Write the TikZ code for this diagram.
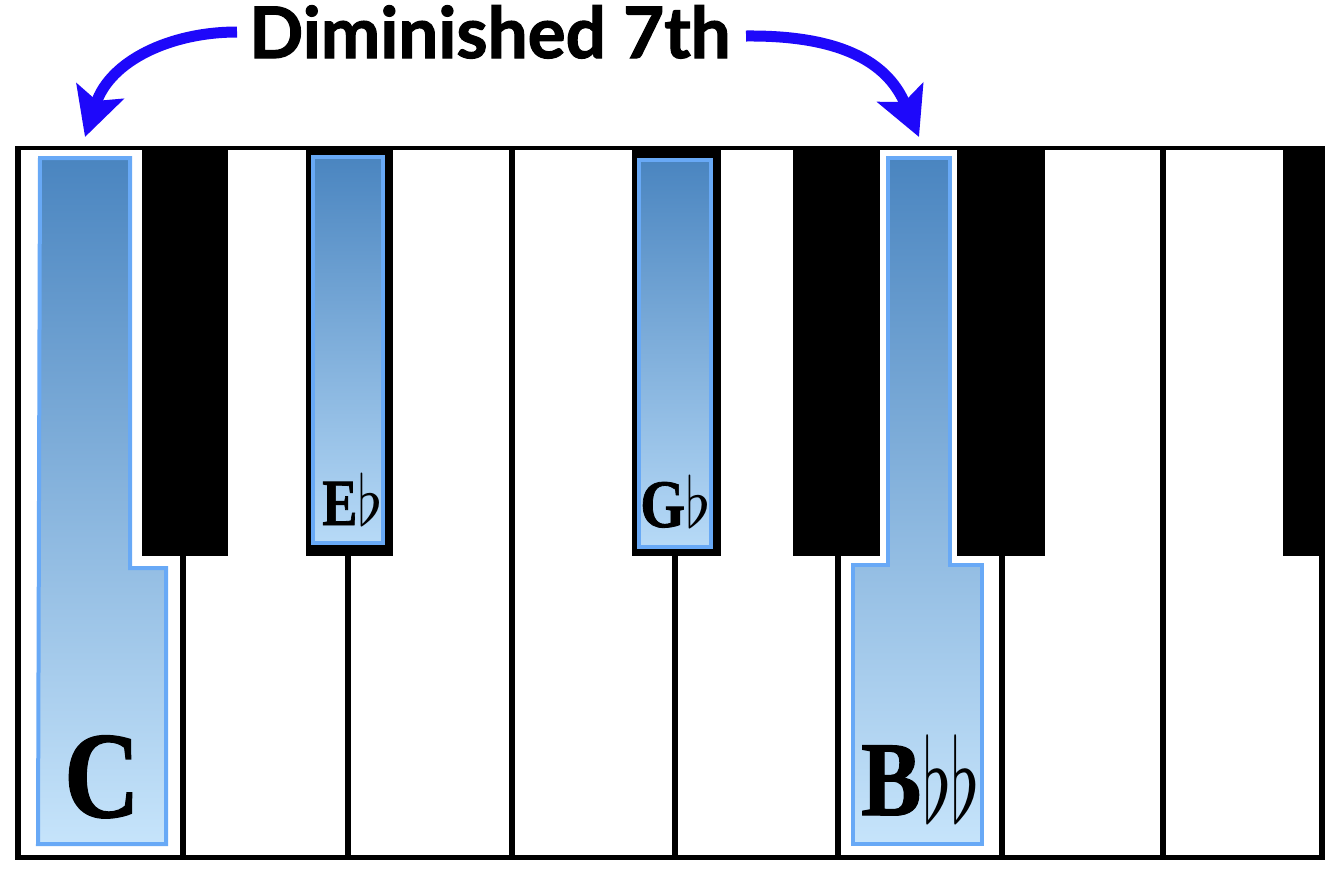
\documentclass[tikz,border=0pt]{standalone}
\usepackage{fontspec}
\usepackage{graphicx}
\setmainfont{Liberation Serif}[BoldFeatures={FakeBold=1.2}]
\newfontfamily\titlefont{Lato}[BoldFeatures={FakeBold=1.6}]
\usetikzlibrary{arrows.meta}
\definecolor{hltop}{HTML}{4A85C0}
\definecolor{hlbot}{HTML}{C6E4FB}
\definecolor{hlbotshort}{HTML}{B7DAF7}
\definecolor{hlborder}{HTML}{68A9F6}
\definecolor{arrblue}{RGB}{30,8,250}
\newcommand{\flatsign}[2]{\scalebox{#1}[#2]{\fontsize{10}{12}\selectfont$\flat$}}
\begin{document}
\begin{tikzpicture}[x=1pt,y=-1pt,
  keyline/.style={line width=6pt, draw=black},
  blackkey/.style={fill=black},
  hlbox/.style={draw=hlborder, line width=4pt, top color=hltop, bottom color=hlbot},
  hlshort/.style={draw=hlborder, line width=4pt, top color=hltop, bottom color=hlbotshort},
  arr/.style={draw=arrblue, line width=11pt, -{Stealth[length=48pt,width=49pt,inset=10pt]}},
  lab/.style={inner sep=0pt, anchor=base west, font=\bfseries},
]
\useasboundingbox (0,0) rectangle (1335,871);
\fill[white] (0,0) rectangle (1335,871);
% white key dividers
\foreach \x in {183,348,512,675,838,1002,1163}
  \draw[keyline] (\x,148) -- (\x,857);
% frame
\draw[keyline] (18,148) -- (18,857);
\draw[keyline] (1322,556) -- (1322,857);
\draw[line width=4.5pt] (15,148) -- (1325,148);
\draw[line width=5pt] (15,857) -- (1325,857);
% black keys
\fill[blackkey] (142,148) rectangle (228,556);
\fill[blackkey] (306,148) rectangle (393,556);
\fill[blackkey] (632,148) rectangle (721,556);
\fill[blackkey] (793,148) rectangle (880,556);
\fill[blackkey] (957,148) rectangle (1045,556);
\fill[blackkey] (1283,148) rectangle (1325,556);
% highlighted keys
\path[hlbox] (40,158) -- (130,158) -- (130,568) -- (166,568) -- (166,844) -- (38,844) -- cycle;
\path[hlshort] (313,157) rectangle (383,543);
\path[hlshort] (639,160) rectangle (711,547);
\path[hlbox] (888,158) -- (950,158) -- (950,565) -- (982,565) -- (982,844) -- (853,844) -- (853,565) -- (888,565) -- cycle;
% labels
\node[lab, font=\bfseries\fontsize{123}{123}\selectfont, xscale=0.85] (labC) at (64,817) {C};
\node[lab, font=\bfseries\fontsize{66}{66}\selectfont] (labEb) at (322,525) {\scalebox{0.8}[1]{E}\kern0pt\flatsign{6.6}{7.0}};
\node[lab, font=\bfseries\fontsize{68}{68}\selectfont] (labGb) at (640,527) {\scalebox{0.85}[1]{G}\kern0pt\flatsign{6.6}{7.0}};
\node[lab, font=\bfseries\fontsize{106}{106}\selectfont] (labBbb) at (861,815) {\scalebox{0.85}[1]{B}\kern1pt\raisebox{-7pt}{\flatsign{7.6}{11.7}\kern-1pt\flatsign{7.6}{11.7}}};
% title
\node[inner sep=0pt, anchor=base, font=\titlefont\bfseries\fontsize{71}{84}\selectfont] (title) at (490,58) {Diminished 7th};
% arrows
\coordinate (lstart) at (237,32);
\coordinate (ltip) at (85,137);
\coordinate (rstart) at (746,36);
\coordinate (rtip) at (919,137);
\draw[arr] (lstart) .. controls (170,32) and (110,61) .. (ltip);
\draw[arr] (rstart) .. controls (850,35) and (890,68) .. (rtip);
\end{tikzpicture}
\end{document}
